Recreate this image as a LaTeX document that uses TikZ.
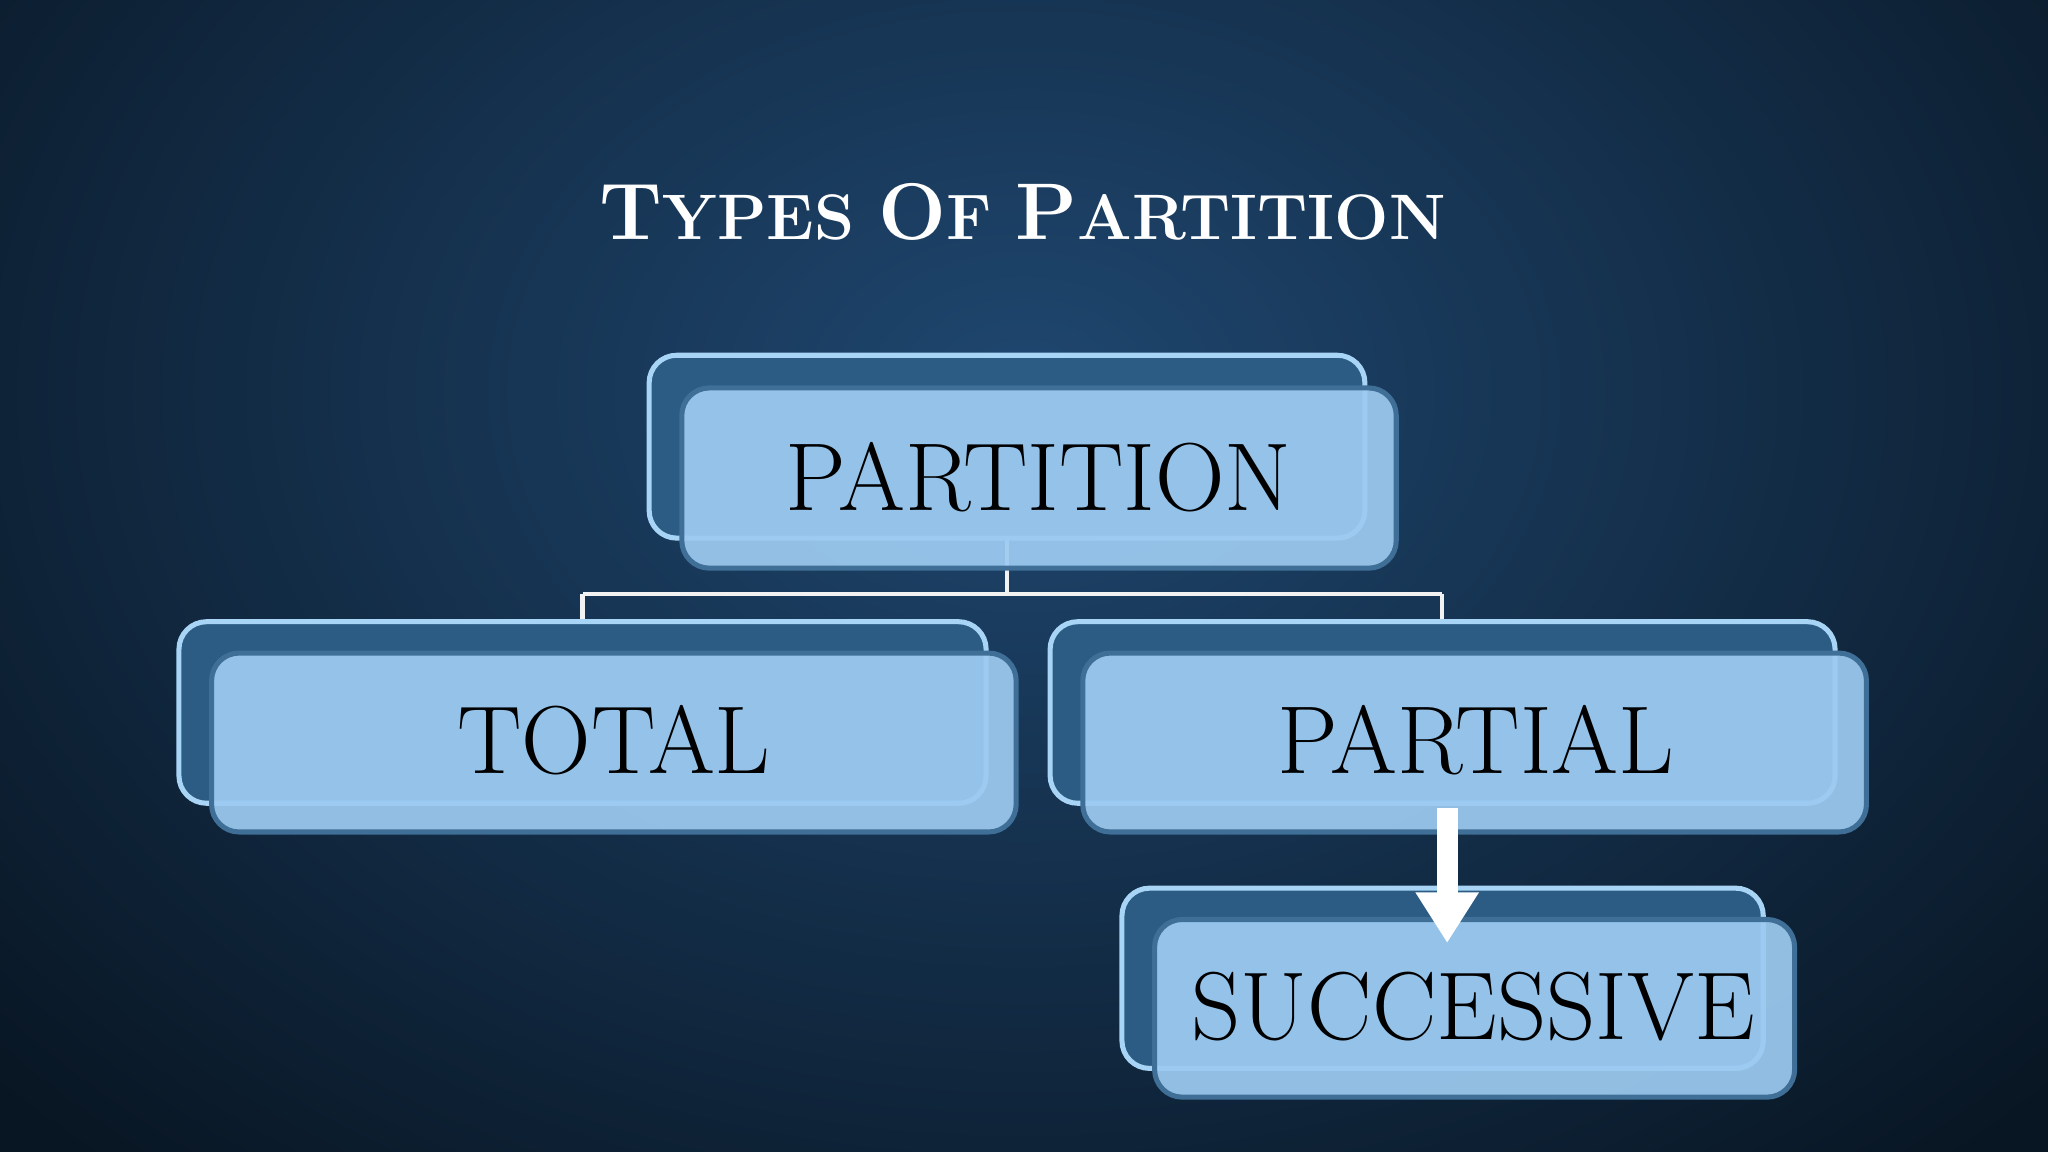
\documentclass[tikz,border=0pt]{standalone}
\usetikzlibrary{arrows.meta,shadows}
\definecolor{bgin}{HTML}{1F4770}
\definecolor{bgout}{HTML}{081522}
\definecolor{backbox}{HTML}{2C5C84}
\definecolor{frontbox}{HTML}{9DCAF0}
\definecolor{edge}{HTML}{A8D4F5}
\definecolor{fedge}{HTML}{3F6F96}
\tikzset{
 backr/.style={draw=edge,line width=1.1pt,fill=backbox,rounded corners=6pt},
 frontr/.style={draw=fedge,line width=1.1pt,fill=frontbox,fill opacity=0.93,rounded corners=6pt},
 lbl/.style={font=\fontsize{21}{24}\selectfont,text=black},
 conn/.style={draw=white!90!gray,line width=0.9pt},
}
\begin{document}
\begin{tikzpicture}[x=0.01cm,y=-0.01cm]
\useasboundingbox (0,0) rectangle (1568,882);
\shade[inner color=bgin,outer color=bgout] (-300,-500) rectangle (1868,1100);
\node[font=\bfseries,text=white] (title) at (783,162)
 {\fontsize{17.5}{22}\selectfont T\fontsize{14}{22}\selectfont YPES \fontsize{17.5}{22}\selectfont O\fontsize{14}{22}\selectfont F \fontsize{17.5}{22}\selectfont P\fontsize{14}{22}\selectfont ARTITION};
% connector
\coordinate (c1) at (771,455);
\coordinate (cl) at (446,455);
\coordinate (cr) at (1104,455);
\draw[conn] (771,412) -- (c1) (cl) -- (cr) (cl) -- (446,476) (cr) -- (1104,476);
% boxes
\draw[backr] (497,272) rectangle (1045,412);
\draw[frontr] (522,297) rectangle (1069,435);
\node[lbl] (p) at (795,365) {PARTITION};
\draw[backr] (137,476) rectangle (755,615);
\draw[frontr] (162,500) rectangle (778,637);
\node[lbl] (t) at (470,567) {TOTAL};
\draw[backr] (804,476) rectangle (1405,615);
\draw[frontr] (829,500) rectangle (1429,637);
\node[lbl] (pa) at (1130,567) {PARTIAL};
\draw[backr] (859,680) rectangle (1350,818);
\draw[frontr] (884,704) rectangle (1374,840);
\node[lbl] (s) at (1128,771) {SUCCESSIVE};
\coordinate (a1) at (1108,619);
\coordinate (a2) at (1108,722);
\draw[white,line width=4.5pt,-{Triangle[width=13pt,length=11pt]}] (a1) -- (a2);
\end{tikzpicture}
\end{document}
